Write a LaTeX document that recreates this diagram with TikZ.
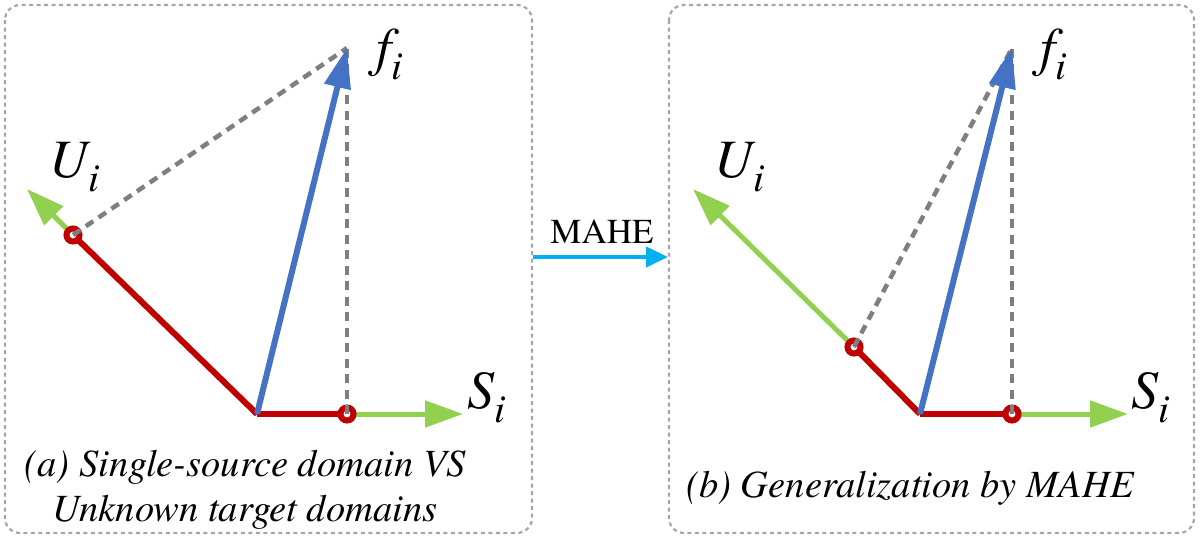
\documentclass[tikz,border=0pt]{standalone}
\usepackage{fontspec}
\setmainfont{TeX Gyre Termes}
\usetikzlibrary{arrows.meta}

\definecolor{redline}{HTML}{C00000}
\definecolor{blueline}{HTML}{4472C4}
\definecolor{greenline}{HTML}{92D050}
\definecolor{grayline}{HTML}{7F7F7F}
\definecolor{boxgray}{HTML}{A6A6A6}
\definecolor{cyanline}{HTML}{00B0F0}

\newcommand{\veclabel}[2]{{\fontsize{54}{60}\selectfont\itshape #1}\raisebox{-14pt}{\fontsize{40}{44}\selectfont\itshape #2}}

\tikzset{
  panel/.style={draw=boxgray, line width=2.2pt, dash pattern=on 4pt off 3.5pt, rounded corners=15pt},
  comp/.style={line width=6pt, redline},
  sarrow/.style={line width=5pt, greenline, -{Triangle[length=38pt,width=26pt]}},
  farrow/.style={line width=6pt, blueline, -{Triangle[length=40pt,width=26pt]}},
  proj/.style={line width=4.5pt, grayline, dash pattern=on 9pt off 6.5pt},
  foot/.style={circle, draw=redline, line width=6pt, fill=white, inner sep=0pt, minimum size=13pt},
  lbl/.style={inner sep=0pt},
  caption/.style={font=\fontsize{38.5}{45}\selectfont\itshape, align=center, inner sep=0pt}
}

\begin{document}
\begin{tikzpicture}[x=1pt,y=-1pt]
\useasboundingbox (0,0) rectangle (1200,536);

\draw[panel] (5,5) rectangle (532,533);
\draw[panel] (669,5) rectangle (1194,533);

% (a)
\coordinate (oa) at (257,414);
\coordinate (sa) at (347,414);
\coordinate (sta) at (463,414);
\coordinate (fa) at (347,48);
\coordinate (ua) at (73,235);
\coordinate (uta) at (27,189);

\draw[sarrow] (sa) -- (sta);
\draw[sarrow] (ua) -- (uta);
\draw[comp] (oa) -- (sa);
\draw[comp] (oa) -- (ua);
\node[foot] (psa) at (sa) {};
\node[foot] (pua) at (ua) {};
\draw[proj] (psa.center) -- (fa);
\draw[proj] (pua.center) -- (fa);
\draw[farrow] (oa) -- (fa);

\node[lbl] (la) at (390,54) {\veclabel{f}{i}};
\node[lbl] (lua) at (75,167) {\veclabel{U}{i}};
\node[lbl] (lsa) at (487,398) {\veclabel{S}{i}};

\node[caption] (capa) at (245,490) {(a) Single-source domain VS\\Unknown target domains};

% MAHE
\coordinate (ma) at (533,257);
\coordinate (mb) at (668,257);
\draw[line width=4pt, cyanline, -{Triangle[length=22pt,width=20pt]}] (ma) -- (mb);
\node[lbl, font=\fontsize{35}{38}\selectfont] (mahe) at (602,232) {MAHE};

% (b)
\coordinate (ob) at (920,414);
\coordinate (sb) at (1012,414);
\coordinate (stb) at (1128,414);
\coordinate (fb) at (1012,48);
\coordinate (ub) at (854,347);
\coordinate (utb) at (693,189);

\draw[sarrow] (sb) -- (stb);
\draw[sarrow] (ub) -- (utb);
\draw[comp] (ob) -- (sb);
\draw[comp] (ob) -- (ub);
\node[foot] (psb) at (sb) {};
\node[foot] (pub) at (ub) {};
\draw[proj] (psb.center) -- (fb);
\draw[proj] (pub.center) -- (fb);
\draw[farrow] (ob) -- (fb);

\node[lbl] (lfb) at (1054,54) {\veclabel{f}{i}};
\node[lbl] (lub) at (740,167) {\veclabel{U}{i}};
\node[lbl] (lsb) at (1151,398) {\veclabel{S}{i}};

\node[caption] (capb) at (910,488) {(b) Generalization by MAHE};
\end{tikzpicture}
\end{document}
